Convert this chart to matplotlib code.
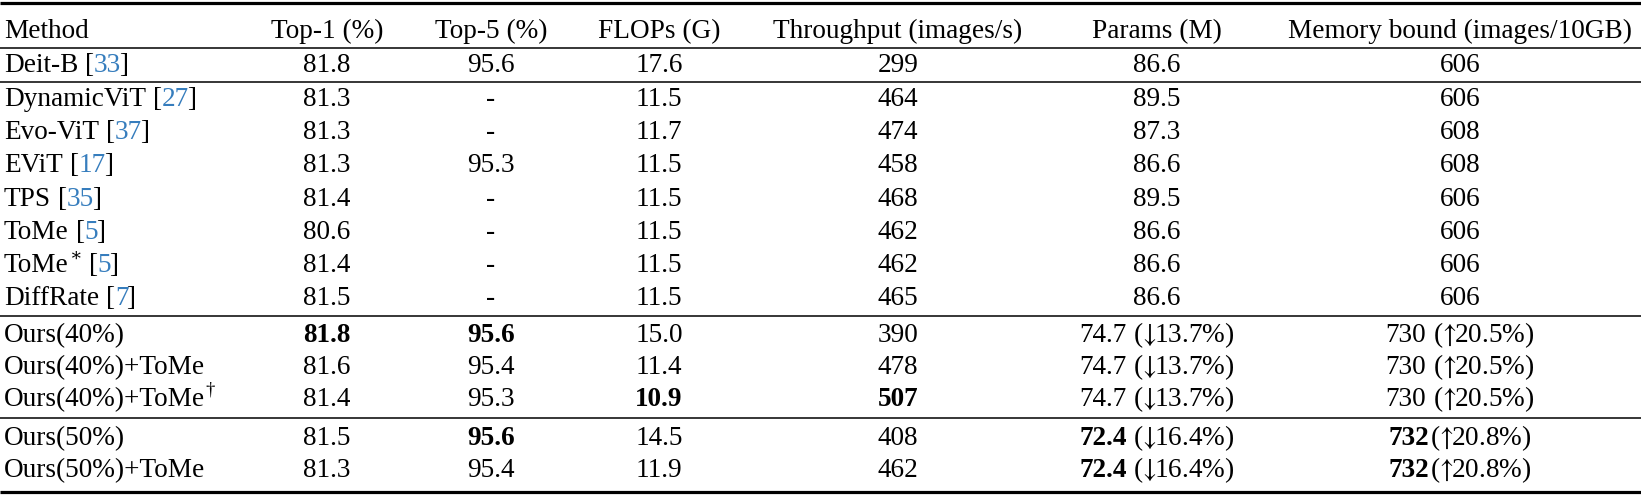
import matplotlib
matplotlib.use("Agg")
import matplotlib.pyplot as plt

plt.rcParams["mathtext.fontset"] = "stix"

# ---------------- data ----------------
headers = ["Method", "Top-1 (%)", "Top-5 (%)", "FLOPs (G)", "Throughput (images/s)",
           "Params (M)", "Memory bound (images/10GB)"]
methods = ["Deit-B", "DynamicViT", "Evo-ViT", "EViT", "TPS", "ToMe", "ToMe", "DiffRate",
           "Ours(40%)", "Ours(40%)+ToMe", "Ours(40%)+ToMe", "Ours(50%)", "Ours(50%)+ToMe"]
method_sup = ["", "", "", "", "", "", "\u2217", "", "", "", "\u2020", "", ""]
refs = ["33", "27", "37", "17", "35", "5", "5", "7", "", "", "", "", ""]
top1 = ["81.8", "81.3", "81.3", "81.3", "81.4", "80.6", "81.4", "81.5", "81.8", "81.6", "81.4", "81.5", "81.3"]
top5 = ["95.6", "-", "-", "95.3", "-", "-", "-", "-", "95.6", "95.4", "95.3", "95.6", "95.4"]
flops = ["17.6", "11.5", "11.7", "11.5", "11.5", "11.5", "11.5", "11.5", "15.0", "11.4", "10.9", "14.5", "11.9"]
throughput = ["299", "464", "474", "458", "468", "462", "462", "465", "390", "478", "507", "408", "462"]
params = ["86.6", "89.5", "87.3", "86.6", "89.5", "86.6", "86.6", "86.6", "74.7", "74.7", "74.7", "72.4", "72.4"]
params_change = ["", "", "", "", "", "", "", "",
                 r"($\!\downarrow\!\!$13.7%)", r"($\!\downarrow\!\!$13.7%)", r"($\!\downarrow\!\!$13.7%)",
                 r"($\!\downarrow\!\!$16.4%)", r"($\!\downarrow\!\!$16.4%)"]
memory = ["606", "606", "608", "608", "606", "606", "606", "606", "730", "730", "730", "732", "732"]
memory_change = ["", "", "", "", "", "", "", "",
                 r"($\!\uparrow\!\!$20.5%)", r"($\!\uparrow\!\!$20.5%)", r"($\!\uparrow\!\!$20.5%)",
                 r"($\!\uparrow\!\!$20.8%)", r"($\!\uparrow\!\!$20.8%)"]
memory_gap = [0, 0, 0, 0, 0, 0, 0, 0, 1, 1, 1, 0, 0]
# bold cells: (row, column)
bold_cells = {(8, 1), (8, 2), (11, 2), (10, 3), (10, 4), (11, 5), (12, 5), (11, 6), (12, 6)}

# ---------------- layout ----------------
W, H = 1641, 495
FS = 19.6
FAMILY = ["Liberation Serif", "DejaVu Serif"]
CITE = "#367DBD"
EM = FS * 100 / 72.0
CAP = 0.662 * EM
SPACE = 0.25 * EM

header_y = 29
row_y = [63, 97, 130, 163, 197, 230, 263, 296, 333, 365, 397, 436, 468]
rules_thin = [48, 82, 316, 418]
rules_thick = [3, 492]
method_x = 4
col_x = [327, 491, 659, 898, 1157, 1460]

fig = plt.figure(figsize=(W / 100, H / 100), dpi=100)
ax = fig.add_axes([0, 0, 1, 1])
ax.set_xlim(0, W)
ax.set_ylim(H, 0)
ax.axis("off")
renderer = fig.canvas.get_renderer()


def draw_runs(x, yc, runs, ha="left"):
    """runs: list of dicts(text, bold, color, sup, gap)"""
    base = yc + CAP / 2
    arts = []
    widths = []
    for r in runs:
        fs = FS * 0.68 if r.get("sup") else FS
        t = ax.text(0, base - (0.42 * EM if r.get("sup") else 0), r["text"], fontsize=fs,
                    family=FAMILY, fontweight="bold" if r.get("bold") else "normal",
                    color=r.get("color", "black"), ha="left", va="baseline")
        arts.append(t)
        widths.append(t.get_window_extent(renderer=renderer).width)
    gaps = [r.get("gap", 0) * SPACE for r in runs]
    total = sum(widths) + sum(gaps)
    if ha == "center":
        cur = x - total / 2
    elif ha == "right":
        cur = x - total
    else:
        cur = x
    for t, w, g in zip(arts, widths, gaps):
        cur += g
        t.set_x(cur)
        cur += w


# header
draw_runs(method_x, header_y, [dict(text=headers[0])])
for j, h in enumerate(headers[1:]):
    draw_runs(col_x[j], header_y, [dict(text=h)], ha="center")

# rows
for i in range(len(methods)):
    y = row_y[i]
    runs = [dict(text=methods[i])]
    if method_sup[i]:
        runs.append(dict(text=method_sup[i], sup=True, gap=0.1))
    if refs[i]:
        runs.append(dict(text="[", gap=1))
        runs.append(dict(text=refs[i], color=CITE))
        runs.append(dict(text="]", gap=-0.3))
    draw_runs(method_x, y, runs)

    simple = [top1[i], top5[i], flops[i], throughput[i]]
    for j, v in enumerate(simple):
        draw_runs(col_x[j], y, [dict(text=v, bold=(i, j + 1) in bold_cells)], ha="center")

    pr = [dict(text=params[i], bold=(i, 5) in bold_cells)]
    if params_change[i]:
        pr.append(dict(text=params_change[i], gap=1))
    draw_runs(col_x[4], y, pr, ha="center")

    mr = [dict(text=memory[i], bold=(i, 6) in bold_cells)]
    if memory_change[i]:
        mr.append(dict(text=memory_change[i], gap=memory_gap[i]))
    draw_runs(col_x[5], y, mr, ha="center")

for yy in rules_thin:
    ax.plot([0, W], [yy, yy], color="black", lw=1.1, solid_capstyle="butt")
for yy in rules_thick:
    ax.plot([0, W], [yy, yy], color="black", lw=2.3, solid_capstyle="butt")

fig.savefig("out.png", dpi=100)
